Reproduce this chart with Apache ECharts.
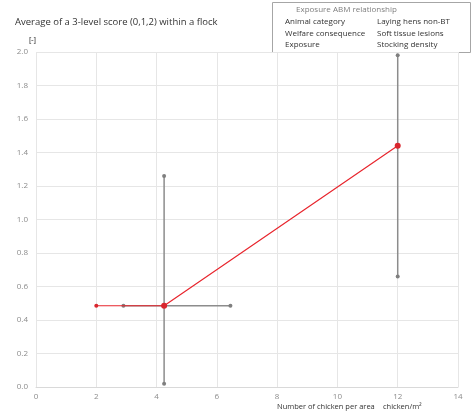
<!DOCTYPE html><html><head><meta charset="utf-8"><script src="https://cdn.jsdelivr.net/npm/echarts@6/dist/echarts.min.js"></script>
<style>body{margin:0}#c{width:474px;height:412px}</style></head><body><div id="c"></div><script>
const meanX=[2,4.25,12];
const meanY=[0.485,0.485,1.44];
const hErr=[[2.9,0.485],[6.45,0.485]];
const vErr1=[[4.25,0.02],[4.25,1.26]];
const vErr2=[[12,0.66],[12,1.98]];
const xTicks=[0,2,4,6,8,10,12,14];
const yTicks=[0,0.2,0.4,0.6,0.8,1,1.2,1.4,1.6,1.8,2];
const legendRows=[["Animal category","Laying hens non-BT"],["Welfare consequence","Soft tissue lesions"],["Exposure","Stocking density"]];
const F='Open Sans, sans-serif';
const gray={type:'line',symbol:'circle',symbolSize:4,itemStyle:{color:'#7f7f7f'},lineStyle:{color:'#8c8c8c',width:1.5},z:2,animation:false};
const g=[{type:'rect',shape:{x:272.5,y:2.5,width:198,height:50},style:{fill:'#fff',stroke:'#a6a6a6',lineWidth:1}},
{type:'text',x:296,y:6,style:{text:'Exposure ABM relationship',fill:'#7f7f7f',font:'8px '+F}}];
legendRows.forEach((r,i)=>{g.push({type:'text',x:285,y:18+i*11.5,style:{text:r[0],fill:'#333',font:'8px '+F}});g.push({type:'text',x:377,y:18+i*11.5,style:{text:r[1],fill:'#333',font:'8px '+F}});});
g.push({type:'text',x:277,y:403,style:{text:'Number of chicken per area',fill:'#333',font:'7.5px '+F}});
g.push({type:'text',x:383,y:403,style:{text:'chicken/m²',fill:'#333',font:'7.5px '+F}});
const c=echarts.init(document.getElementById('c'));
c.setOption({animation:false,
title:{text:'Average of a 3-level score (0,1,2) within a flock',left:10,top:12,textStyle:{fontSize:9.5,fontWeight:'normal',color:'#333',fontFamily:F}},
graphic:g,
grid:{left:36,right:16,top:52,bottom:25},
xAxis:{type:'value',min:0,max:14,interval:2,axisLine:{lineStyle:{color:'#d9d9d9'}},axisTick:{show:false},splitLine:{lineStyle:{color:'#e6e6e6'}},axisLabel:{color:'#8c8c8c',fontSize:8,fontFamily:F,margin:6}},
yAxis:{type:'value',min:0,max:2,interval:0.2,name:'[-]',nameLocation:'end',nameGap:8,nameTextStyle:{color:'#333',fontSize:8,align:'right'},axisLine:{show:false},axisTick:{show:false},splitLine:{lineStyle:{color:'#e6e6e6'}},axisLabel:{color:'#8c8c8c',fontSize:8,fontFamily:F,formatter:v=>v.toFixed(1)}},
series:[
Object.assign({},gray,{data:hErr}),
Object.assign({},gray,{data:vErr1}),
Object.assign({},gray,{data:vErr2}),
{type:'line',data:meanX.map((x,i)=>[x,meanY[i]]),symbol:'circle',symbolSize:(v,p)=>p.dataIndex==0?4:6,itemStyle:{color:'#d9262e'},lineStyle:{color:'#e8262e',width:1.2},z:3}
]});
</script></body></html>
